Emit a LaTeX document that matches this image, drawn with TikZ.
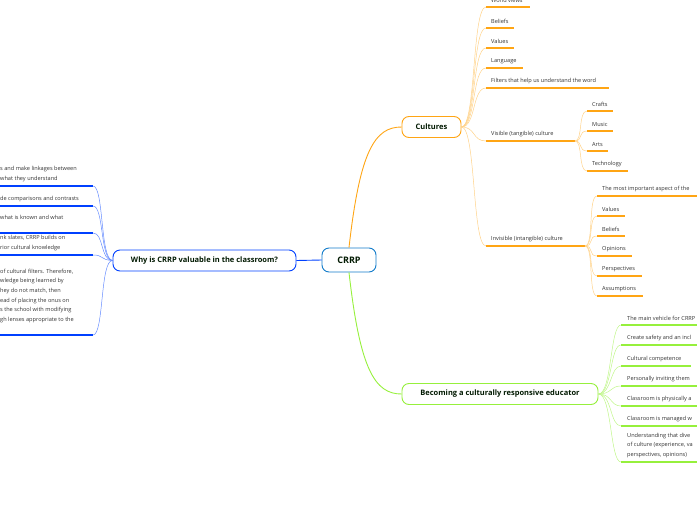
\documentclass[tikz,border=0pt]{standalone}
\usepackage{fontspec}
\setmainfont{Open Sans}
\begin{document}
\begin{tikzpicture}[x=1pt,y=-1pt,
  lbl/.style={font=\fontsize{5.6}{9.6}\selectfont,text=black!80,anchor=south west,inner sep=0pt,align=left},
  main/.style={draw,rounded corners=7pt,line width=0.9pt,font=\fontsize{7.5}{9}\selectfont\bfseries,text=black!75!green!40!black,fill=white,inner xsep=8pt,minimum height=21pt},
  ul/.style={line width=1.2pt}]
\useasboundingbox (0,0) rectangle (697,520);
\clip (0,0) rectangle (697,520);
\definecolor{org}{RGB}{255,165,20}
\definecolor{grn}{RGB}{150,240,60}
\colorlet{blu}{blue!75!cyan}
% root
\node[main,draw=cyan!60!blue,minimum width=54pt,minimum height=24pt,font=\fontsize{9}{10}\selectfont\bfseries] (root) at (349,260) {CRRP};
\node[main,draw=org,minimum width=59pt] (cult) at (431.5,127) {Cultures};
\node[main,draw=blu,minimum width=183pt] (why) at (204.5,260.5) {Why is CRRP valuable in the classroom?};
\node[main,draw=grn,minimum width=196pt] (beco) at (500,394) {Becoming a culturally responsive educator};
\draw[org,line width=0.9pt] (root.north) .. controls (360,150) and (375,127) .. (cult.west);
\draw[grn,line width=0.9pt] (root.south) .. controls (360,370) and (375,394) .. (beco.west);
\draw[blu,line width=0.9pt] (root.west) -- (why.east);
% Cultures children
\coordinate (cr) at (cult.east);
\foreach \y/\e/\t in {7/530/World views,28/514/Beliefs,48/514/Values,68/523/Language,88/609/Filters that help us understand the word,141/575/Visible (tangible) culture,246/585/Invisible (intangible) culture}{
  \draw[org!50,line width=0.5pt] (cr) .. controls (476,127) and (472,\y) .. (486,\y);
  \draw[org,ul] (486,\y) -- (\e,\y);
  \node[lbl] at (491,\y-4) {\t};
}
\coordinate (vis) at (575,141);
\foreach \y/\e/\t in {111/613/Crafts,131/613/Music,151/608/Arts,171/628/Technology}{
  \draw[org!50,line width=0.5pt] (vis) .. controls (583,141) and (578,\y) .. (587,\y);
  \draw[org,ul] (587,\y) -- (\e,\y);
  \node[lbl] at (592,\y-4) {\t};
}
\coordinate (inv) at (585,246);
\foreach \y/\e/\t in {196/700/The most important aspect of the,216/625/Values,236/625/Beliefs,256/632/Opinions,276/642/Perspectives,296/643/Assumptions}{
  \draw[org!50,line width=0.5pt] (inv) .. controls (594,246) and (588,\y) .. (597,\y);
  \draw[org,ul] (597,\y) -- (\e,\y);
  \node[lbl] at (602,\y-4) {\t};
}
% Becoming children
\coordinate (br) at (beco.east);
\foreach \y/\e/\t in {325/700/The main vehicle for CRRP,345/700/Create safety and an incl,366/691/Cultural competence,386/700/Personally inviting them,406/700/Classroom is physically a,426/700/Classroom is managed w,462/700/{Understanding that dive\\of culture (experience, va\\perspectives, opinions)}}{
  \draw[grn!60,line width=0.5pt] (br) .. controls (612,394) and (610,\y) .. (621,\y);
  \draw[grn,ul] (621,\y) -- (\e,\y);
  \node[lbl] at (627,\y-4) {\t};
}
% Why children
\coordinate (wl) at (why.west);
\foreach \y/\t in {186/{s and make linkages between\\ what they understand},206/{de comparisons and contrasts},233/{ what is known and what\\ },255/{nk slates, CRRP builds on\\rior cultural knowledge},335/{of cultural filters. Therefore,\\wledge being learned by\\hey do not match, then\\ead of placing the onus on\\s the school with modifying\\gh lenses appropriate to the\\ }}{
  \draw[blu!60,line width=0.5pt] (wl) .. controls (100,260) and (104,\y) .. (93,\y);
  \draw[blu,ul] (93,\y) -- (-2,\y);
  \node[lbl] at (0,\y-4) {\t};
}
\end{tikzpicture}
\end{document}
